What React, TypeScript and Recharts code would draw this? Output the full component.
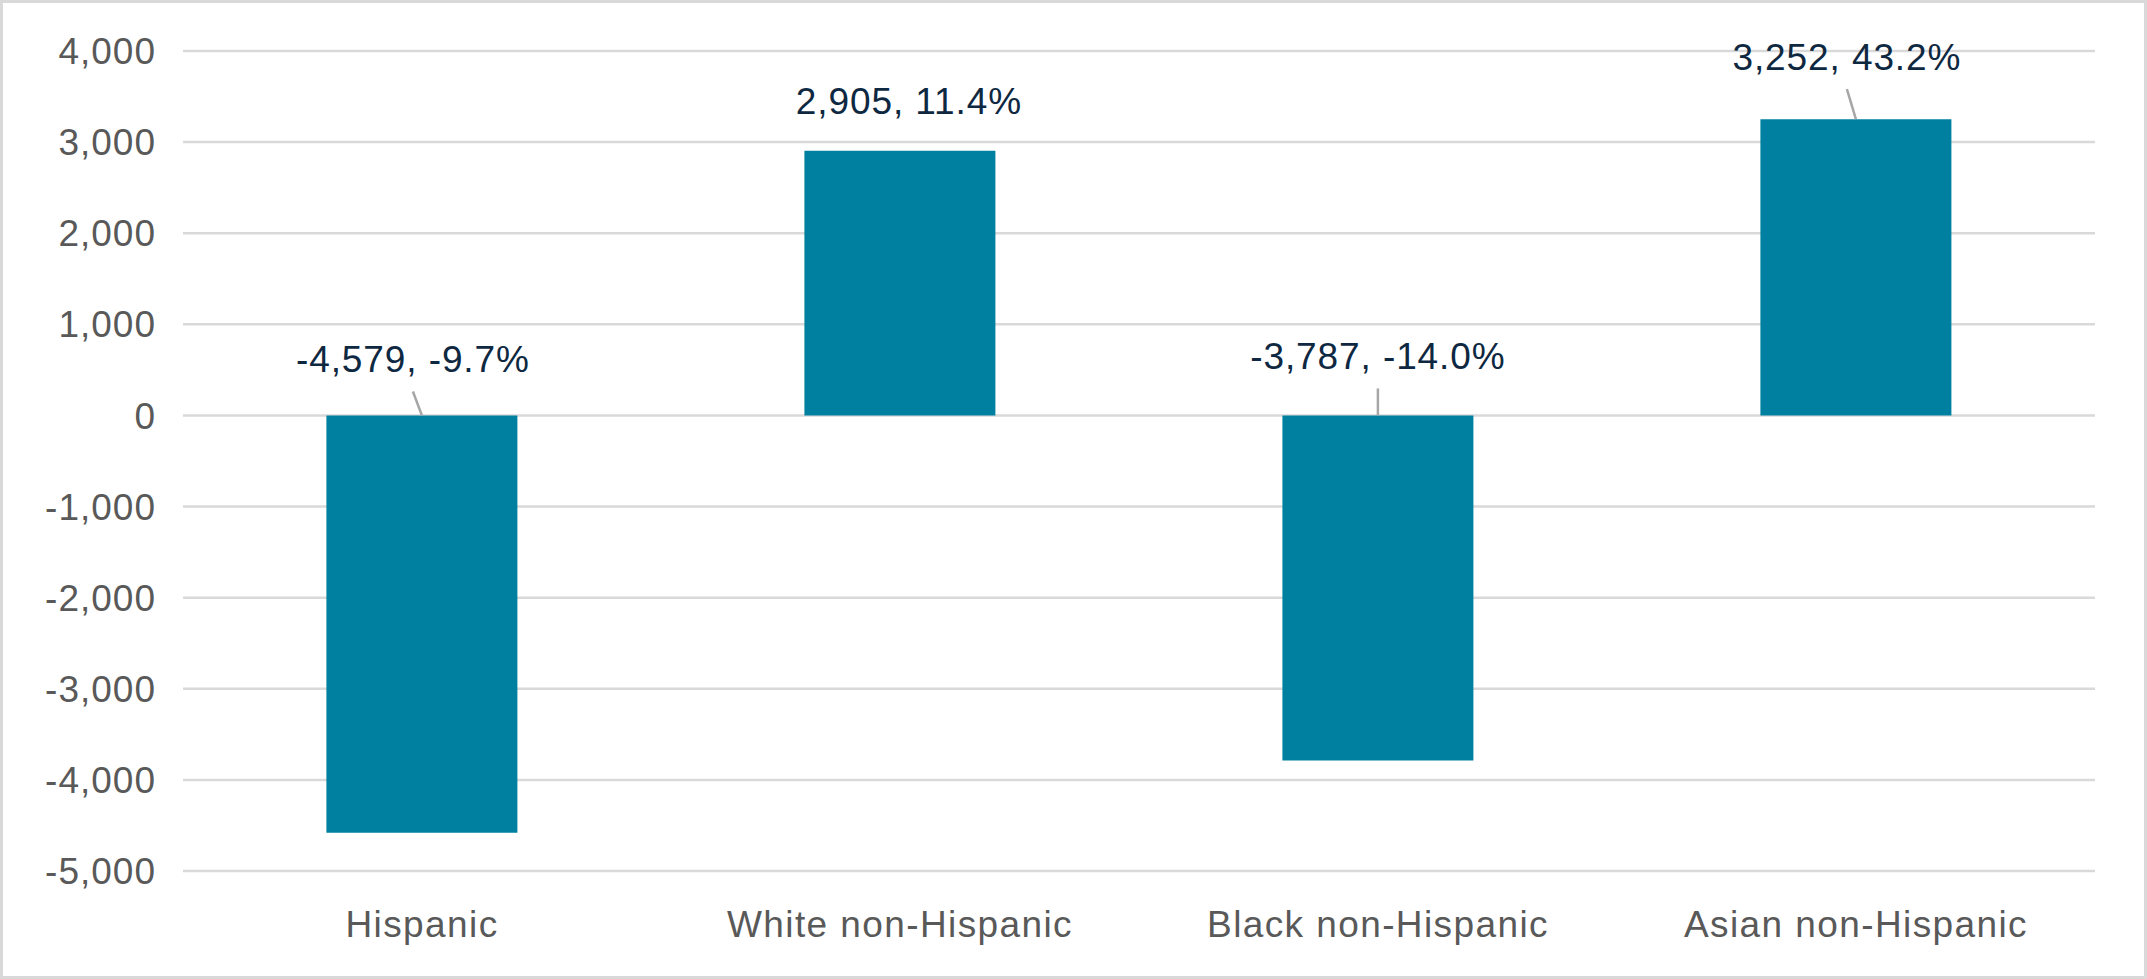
import { BarChart, Bar, XAxis, YAxis, CartesianGrid, LabelList } from "recharts";

const groups = ["Hispanic", "White non-Hispanic", "Black non-Hispanic", "Asian non-Hispanic"];
const change = [-4579, 2905, -3787, 3252];
const pctChange = [-9.7, 11.4, -14.0, 43.2];
const yTicks = [-5000, -4000, -3000, -2000, -1000, 0, 1000, 2000, 3000, 4000];

// hand-placed data labels (dx, dy from the bar end nearest the top), like the dragged Excel labels
const labelNudge = [[-9, -56], [9, -49], [0, -59], [-9, -62]];
const showLeader = [true, false, true, true];

const data = groups.map((g, i) => ({ group: g, change: change[i], pct: pctChange[i] }));

const fmt = (v: number) => v.toLocaleString("en-US");

const BarLabel = (props: any) => {
  const { x, y, width, height, index } = props;
  const d = data[index];
  const cx = x + width / 2;
  const anchorY = Math.min(y, y + height);
  const [dx, dy] = labelNudge[index];
  const lx = cx + dx;
  const ly = anchorY + dy;
  return (
    <g>
      {showLeader[index] && (
        <line x1={lx} y1={ly + 32} x2={cx} y2={anchorY} stroke="#a6a6a6" strokeWidth={2.5} />
      )}
      <text
        x={lx}
        y={ly}
        textAnchor="middle"
        dominantBaseline="central"
        fontFamily="'Liberation Sans', Arial, sans-serif"
        fontSize={37}
        letterSpacing={0.9}
        fill="#0e2841"
      >
        {`${fmt(d.change)}, ${d.pct.toFixed(1)}%`}
      </text>
    </g>
  );
};

export default function App() {
  return (
    <div style={{ position: "absolute", left: 0, top: 0, width: 2147, height: 979, background: "#ffffff" }}>
      <BarChart
        width={2147}
        height={979}
        data={data}
        margin={{ top: 51, right: 52, bottom: 0, left: 0 }}
        barCategoryGap="30%"
      >
        <CartesianGrid vertical={false} stroke="#d9d9d9" strokeWidth={2.5} />
        <XAxis
          dataKey="group"
          height={108}
          axisLine={false}
          tickLine={false}
          tickSize={0}
          tickMargin={40}
          tick={{ fill: "#595959", fontSize: 37, fontFamily: "'Liberation Sans', Arial, sans-serif", letterSpacing: 1.4 }}
        />
        <YAxis
          width={183}
          domain={[-5000, 4000]}
          ticks={yTicks}
          axisLine={false}
          tickLine={false}
          tickSize={0}
          tickMargin={27}
          tickFormatter={fmt}
          tick={{ fill: "#595959", fontSize: 37, fontFamily: "'Liberation Sans', Arial, sans-serif", letterSpacing: 1 }}
        />
        <Bar dataKey="change" fill="#0080a0" isAnimationActive={false}>
          <LabelList dataKey="change" content={BarLabel} />
        </Bar>
      </BarChart>
      <div
        style={{
          position: "absolute",
          inset: 0,
          border: "3px solid #d9d9d9",
          boxSizing: "border-box",
          pointerEvents: "none",
        }}
      />
    </div>
  );
}
